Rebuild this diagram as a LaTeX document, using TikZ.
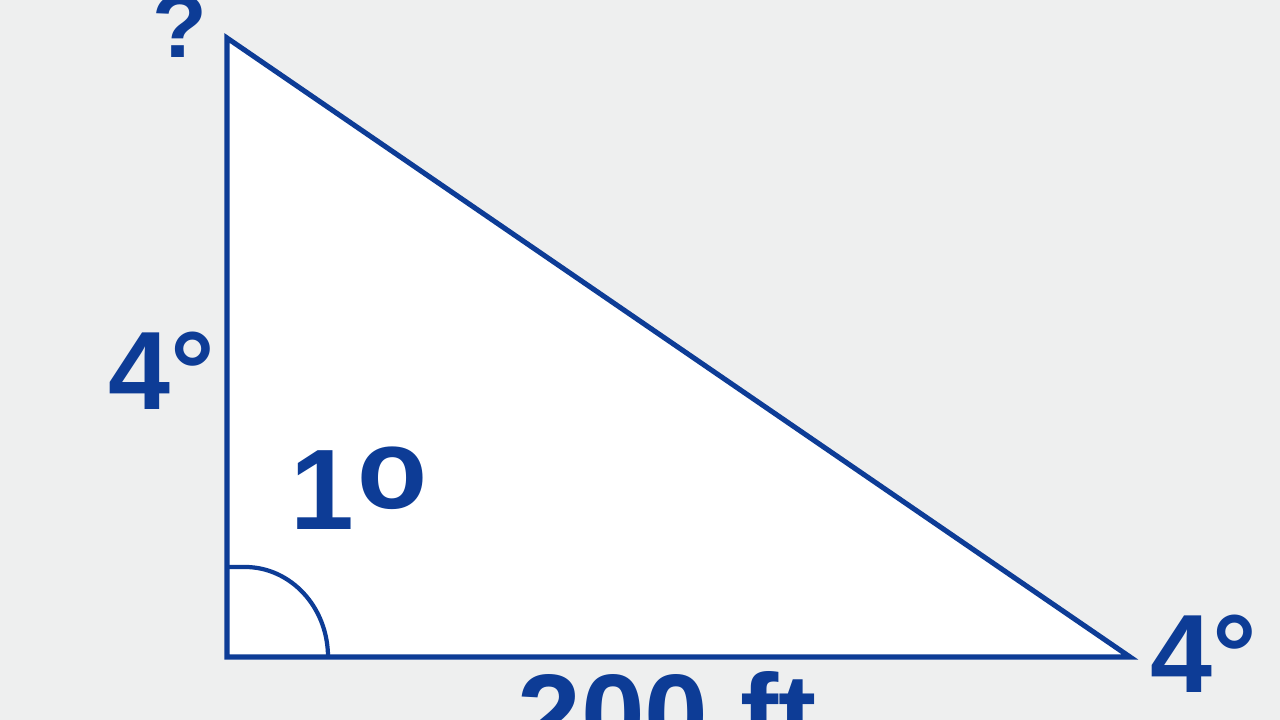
\documentclass[tikz,border=0pt]{standalone}
\usepackage{fontspec}
\setmainfont{Liberation Sans}
\definecolor{navy}{RGB}{13,60,150}
\definecolor{bgray}{RGB}{238,239,239}
\tikzset{
  edge/.style={draw=navy, line width=1.45pt},
  lbl/.style={text=navy, inner sep=0pt, font=\bfseries\fontsize{31.7}{38}\selectfont},
  qlbl/.style={text=navy, inner sep=0pt, font=\bfseries\fontsize{25.5}{30}\selectfont},
}
\begin{document}
\begin{tikzpicture}
\useasboundingbox (0,0) rectangle (12.8,7.2);
\clip (0,0) rectangle (12.8,7.2);
\fill[bgray] (0,0) rectangle (12.8,7.2);
\coordinate (A) at (2.27,6.82);
\coordinate (B) at (2.27,0.63);
\coordinate (C) at (11.30,0.63);
\coordinate (arcS) at (2.27,1.53);
\filldraw[edge, fill=white] (A) -- (B) -- (C) -- cycle;
\draw[edge, line width=1.2pt] (arcS) -- ++(0.18,0) arc[start angle=90, end angle=0, x radius=0.83, y radius=0.90];
\node[qlbl, anchor=base] (q) at (1.80,6.62) {?};
\node[lbl, anchor=base east] (l4) at (2.16,3.10) {4°};
\node[lbl, anchor=base west] (r4) at (11.50,0.27) {4°};
\node[lbl, anchor=base west, font=\bfseries\fontsize{32.6}{38}\selectfont] (one) at (2.90,1.90) {1\kern0.03em\raisebox{0.19em}{o}};
\node[lbl, anchor=base, font=\bfseries\fontsize{32.6}{38}\selectfont] (base) at (6.67,-0.35) {200 ft};
\end{tikzpicture}
\end{document}
